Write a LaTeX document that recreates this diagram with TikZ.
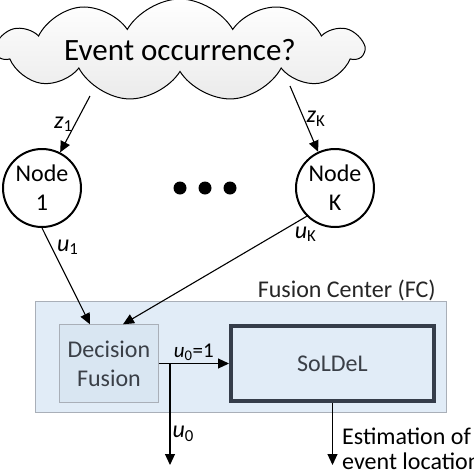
\documentclass[tikz,border=0pt]{standalone}
\usepackage{fontspec}
\setmainfont{Carlito}
\usetikzlibrary{shapes.symbols, arrows.meta, positioning}
\definecolor{fcfill}{HTML}{E1ECF7}
\definecolor{dffill}{HTML}{D9E6F2}
\definecolor{boxline}{HTML}{A9AFB8}
\definecolor{solline}{HTML}{353D4A}
\definecolor{boxtext}{HTML}{3A3F47}
\tikzstyle{arrow}  = [line width=1.1pt, -{Triangle[length=11pt,width=10pt]}]
\tikzstyle{sensor} = [circle, draw, line width=2pt, fill=white, minimum size=78pt, inner sep=0pt, align=center, font=\fontsize{24}{29}\selectfont]
\tikzstyle{block}  = [rectangle, draw=boxline, fill=dffill, align=center, inner sep=0pt, font=\fontsize{24}{29}\selectfont, text=boxtext]
\tikzstyle{lbl}    = [inner sep=2pt, font=\fontsize{24}{28}\selectfont]
\tikzstyle{dot}    = [circle, fill=black, minimum size=13pt, inner sep=0pt]

\begin{document}
\begin{tikzpicture}[x=1pt, y=-1pt]
    \clip (0,0) rectangle (474,474);
    \fill [white] (0,0) rectangle (474,474);

    \node (event) at (180,50) [cloud, cloud puffs=11, cloud puff arc=120, cloud ignores aspect, draw, line width=1pt,
          top color=white, bottom color=gray!16, minimum width=366pt, minimum height=102pt, inner sep=0pt,
          font=\fontsize{31}{34}\selectfont] {Event occurrence?};

    \node (n1) at (42,188)  [sensor] {Node\\1};
    \node (nK) at (335,188) [sensor] {Node\\K};

    \node (d1) at (180,188) [dot] {};
    \node (d2) at (205,188) [dot] {};
    \node (d3) at (230,188) [dot] {};

    \node (fc)  at (241,357)   [rectangle, draw=boxline, fill=fcfill, minimum width=411pt, minimum height=111pt] {};
    \node (fcl) at (438,297)   [lbl, anchor=base east, text=black!85] {Fusion Center (FC)};
    \node (df)  at (109,363.5) [block, minimum width=99pt, minimum height=78pt] {Decision\\Fusion};
    \node (sol) at (332.5,363.5) [block, draw=solline, fill=fcfill, line width=4pt, minimum width=203pt, minimum height=75pt] {SoLDeL};

    \coordinate (z1s) at (90,96);
    \coordinate (zKs) at (290,86);
    \coordinate (br)  at (170,363.5);
    \coordinate (u0e) at (170,465);
    \coordinate (est) at (332.5,465);

    \draw [arrow] (z1s) -- (n1.63)  node [lbl, pos=0.5, left]  {{\itshape z}\textsubscript{1}};
    \draw [arrow] (zKs) -- (nK.115) node [lbl, pos=0.5, right] {{\itshape z}\textsubscript{K}};
    \draw [arrow] (n1.south) -- ([xshift=-19pt]df.north) node [lbl, pos=0.2, right=3pt] {{\itshape u}\textsubscript{1}};
    \draw [arrow] (nK.225) -- ([xshift=14pt]df.north) node [lbl, pos=0.1, anchor=north west, xshift=4pt, yshift=3pt] {{\itshape u}\textsubscript{K}};
    \draw [arrow] (df.east) -- (sol.west) node [lbl, midway, above, font=\fontsize{21}{24}\selectfont] {{\itshape u}\textsubscript{0}=1};
    \draw [arrow] (br) -- (u0e) node [lbl, pos=0.69, right] {{\itshape u}\textsubscript{0}};
    \draw [arrow] (sol.south) -- (est);
    \node (estl) at (340,449) [lbl, anchor=west, align=left, font=\fontsize{24}{25}\selectfont] {Estimation of\\event location};
\end{tikzpicture}
\end{document}
